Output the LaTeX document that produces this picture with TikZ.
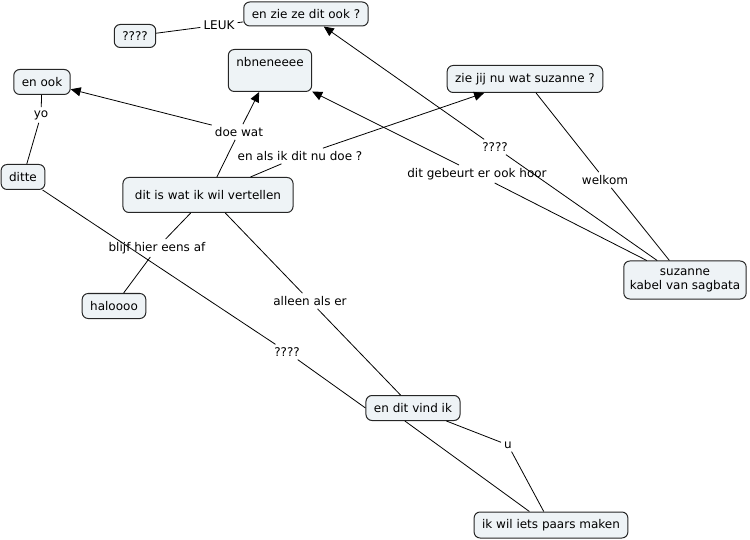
\documentclass[tikz,border=0pt]{standalone}
\usepackage{fontspec}
\setmainfont{DejaVu Sans}
\usetikzlibrary{arrows.meta}
\definecolor{boxfill}{RGB}{238,243,246}
\begin{document}
\begin{tikzpicture}[x=1pt,y=-1pt,
  font=\fontsize{12}{14}\selectfont,
  concept/.style={draw=black!85,line width=1pt,fill=boxfill,rounded corners=6pt,
    inner xsep=8pt,minimum height=25pt,align=center},
  linkword/.style={inner sep=3pt},
  link/.style={line width=0.8pt},
  arr/.style={link,-{Triangle[length=10pt,width=9pt]}}]
  \useasboundingbox (0,0) rectangle (750,540);
  % Concepts
  \node[concept,minimum height=23pt] (qbox) at (135,36) {????};
  \node[concept,minimum height=24pt] (enzie) at (306,14) {en zie ze dit ook ?};
  \node[concept,anchor=north,minimum width=81pt,inner ysep=5pt,
        text height=12pt,text depth=20pt,minimum height=0pt] (nbn) at (270,49) {nbneneeee};
  \node[concept] (enook) at (42,82) {en ook};
  \node[concept] (ditte) at (23,177) {ditte};
  \node[concept,minimum height=27pt] (ziejij) at (525,79) {zie jij nu wat suzanne ?};
  \node[concept,minimum height=35pt,inner xsep=12pt] (dit) at (208,195) {dit is wat ik wil vertellen};
  \node[concept,minimum height=38pt,inner xsep=6pt] (suzanne) at (685,280) {suzanne\\kabel van sagbata};
  \node[concept] (haloooo) at (114,306) {haloooo};
  \node[concept] (endit) at (413,408) {en dit vind ik};
  \node[concept,minimum height=26pt] (ikwil) at (551,525) {ik wil iets paars maken};
  % Linking words
  \node[linkword] (leuk) at (219,25) {LEUK};
  \node[linkword] (yo) at (41,115) {yo};
  \node[linkword] (doewat) at (239,132) {doe wat};
  \node[linkword] (enals) at (300,156) {en als ik dit nu doe ?};
  \node[linkword] (qtop) at (495,147) {????};
  \node[linkword] (gebeurt) at (477,174) {dit gebeurt er ook hoor};
  \node[linkword] (welkom) at (605,180) {welkom};
  \node[linkword] (blijf) at (157,248) {blijf hier eens af};
  \node[linkword] (alleen) at (310,301) {alleen als er};
  \node[linkword] (qlow) at (287,352) {????};
  \node[linkword] (u) at (508,445) {u};
  % Links
  \draw[link] (qbox) -- (leuk);
  \draw[link] (leuk) -- (enzie);
  \draw[link] (enook) -- (yo);
  \draw[link] (yo) -- (ditte);
  \draw[link] (dit) -- (doewat);
  \draw[arr] (doewat) -- (enook);
  \draw[arr] (doewat) -- (nbn);
  \draw[link] (dit) -- (enals);
  \draw[arr] (enals) -- (ziejij);
  \draw[link] (suzanne) -- (qtop);
  \draw[arr] (qtop) -- (enzie);
  \draw[link] (suzanne) -- (gebeurt);
  \draw[arr] (gebeurt) -- (nbn);
  \draw[link] (ziejij) -- (welkom);
  \draw[link] (welkom) -- (suzanne);
  \draw[link] (dit) -- (blijf);
  \draw[link] (blijf) -- (haloooo);
  \draw[link] (dit) -- (alleen);
  \draw[link] (alleen) -- (endit);
  \draw[link] (ditte) -- (qlow);
  \draw[link] (qlow) -- (endit.west);
  \draw[link] (endit) -- (u);
  \draw[link] (u) -- (ikwil);
  \draw[link] (endit.238) -- (ikwil.148);
\end{tikzpicture}
\end{document}
